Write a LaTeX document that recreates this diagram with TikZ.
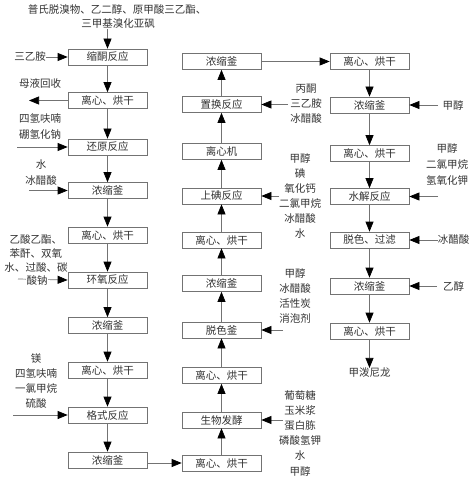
\documentclass[tikz,border=0pt]{standalone}
\usepackage{fontspec}
\setmainfont{Noto Sans CJK SC}
\usetikzlibrary{arrows.meta}
\begin{document}
\begin{tikzpicture}[x=1pt,y=-1pt,
  box/.style={draw=black!55, line width=0.7pt, minimum width=79pt, minimum height=16pt, inner sep=0pt, font=\fontsize{10.5}{12}\selectfont, fill=white, text=black!80},
  lbl/.style={inner sep=0pt, font=\fontsize{10.5}{15}\selectfont, align=center, text=black!80},
  arr/.style={draw=black!55, line width=0.7pt, -{Triangle[length=10pt,width=8pt,color=black,fill=black]}},
]
\useasboundingbox (0,0) rectangle (474,478);
% left column
\node[box] (L1) at (107.5,57) {缩酮反应};
\node[box] (L2) at (107.5,100.5) {离心、烘干};
\node[box] (L3) at (107.5,147) {还原反应};
\node[box] (L4) at (107.5,190.5) {浓缩釜};
\node[box] (L5) at (107.5,235) {离心、烘干};
\node[box] (L6) at (107.5,280) {环氧反应};
\node[box] (L7) at (107.5,325.5) {浓缩釜};
\node[box] (L8) at (107.5,370) {离心、烘干};
\node[box] (L9) at (107.5,415) {格式反应};
\node[box] (L10) at (107.5,460) {浓缩釜};
% middle column
\node[box] (M1) at (221.5,61.5) {浓缩釜};
\node[box] (M2) at (221.5,104.5) {置换反应};
\node[box] (M3) at (221.5,151.5) {离心机};
\node[box] (M4) at (221.5,196) {上碘反应};
\node[box] (M5) at (221.5,240) {离心、烘干};
\node[box] (M6) at (221.5,283.5) {浓缩釜};
\node[box] (M7) at (221.5,330) {脱色釜};
\node[box] (M8) at (221.5,375.5) {离心、烘干};
\node[box] (M9) at (221.5,420) {生物发酵};
\node[box] (M10) at (221.5,463) {离心、烘干};
% right column
\node[box] (R1) at (369.5,61.5) {离心、烘干};
\node[box] (R2) at (369.5,105) {浓缩釜};
\node[box] (R3) at (369.5,153.5) {离心、烘干};
\node[box] (R4) at (369.5,196.5) {水解反应};
\node[box] (R5) at (369.5,240) {脱色、过滤};
\node[box] (R6) at (369.5,286) {浓缩釜};
\node[box] (R7) at (369.5,331) {离心、烘干};
\node[lbl] (P) at (369.5,373) {甲泼尼龙};
% top input
\node[lbl] (top1) at (117,10) {普氏脱溴物、乙二醇、原甲酸三乙酯、};
\node[lbl] (top2) at (118,24) {三甲基溴化亚砜};
\draw[arr] (L1.north |- top2.south) -- (L1.north);
% left column flow
\foreach \a/\b in {L1/L2,L2/L3,L3/L4,L4/L5,L5/L6,L6/L7,L7/L8,L8/L9,L9/L10}
  \draw[arr] (\a) -- (\b);
% left inputs
\node[lbl] (i1) at (30,57) {三乙胺};
\draw[arr] (i1.east) -- (L1.west);
\node[lbl] (o1) at (40,84) {母液回收};
\coordinate (o1e) at (29,100.5);
\draw[arr] (L2.west) -- (o1e);
\node[lbl, font=\fontsize{10.5}{16}\selectfont] (i3) at (40,127) {四氢呋喃\\硼氢化钠};
\coordinate (i3s) at (17,147);
\draw[arr] (i3s) -- (L3.west);
\node[lbl, font=\fontsize{10.5}{16}\selectfont] (i4) at (41,173) {水\\冰醋酸};
\coordinate (i4s) at (29,190.5);
\draw[arr] (i4s) -- (L4.west);
\node[lbl, font=\fontsize{10.5}{13.7}\selectfont] (i6) at (36,253.5) {乙酸乙酯、\\苯酐、双氧\\水、过酸、碳};
\coordinate (i6s) at (18,279);
\draw[arr] (i6s) -- (L6.west);
\node[lbl, fill=white, inner sep=0.5pt] (i6b) at (37,281) {酸钠};
\node[lbl, font=\fontsize{10.5}{14.7}\selectfont] (i9) at (36,381) {镁\\四氢呋喃\\一氯甲烷\\硫酸};
\coordinate (i9s) at (13,415);
\draw[arr] (i9s) -- (L9.west);
% bottom link
\draw[arr] (L10.east |- M10) -- (M10.west);
% middle column flow (upward)
\foreach \a/\b in {M10/M9,M9/M8,M8/M7,M7/M6,M6/M5,M5/M4,M4/M3,M3/M2,M2/M1}
  \draw[arr] (\a) -- (\b);
\draw[arr] (M1) -- (R1);
% middle inputs
\node[lbl] (j2) at (306,104) {丙酮\\三乙胺\\冰醋酸};
\coordinate (j2s) at (288,104.5);
\draw[arr] (j2s) -- (M2.east);
\node[lbl] (j4) at (300,195.5) {甲醇\\碘\\氧化钙\\二氯甲烷\\冰醋酸\\水};
\coordinate (j4s) at (279,196);
\draw[arr] (j4s) -- (M4.east);
\node[lbl] (j7) at (295,295.5) {甲醇\\冰醋酸\\活性炭\\消泡剂};
\coordinate (j7s) at (283,330);
\draw[arr] (j7s) -- (M7.east);
\node[lbl, font=\fontsize{10.5}{15.2}\selectfont] (j9) at (300,433) {葡萄糖\\玉米浆\\蛋白胨\\磷酸氢钾\\水\\甲醇};
\coordinate (j9s) at (283,420);
\draw[arr] (j9s) -- (M9.east);
% right column flow
\foreach \a/\b in {R1/R2,R2/R3,R3/R4,R4/R5,R5/R6,R6/R7,R7/P}
  \draw[arr] (\a) -- (\b);
% right inputs
\node[lbl] (k2) at (453,105) {甲醇};
\coordinate (k2s) at (438,105);
\draw[arr] (k2s) -- (R2.east);
\node[lbl, font=\fontsize{10.5}{16}\selectfont] (k4) at (447,164) {甲醇\\二氯甲烷\\氢氧化钾};
\coordinate (k4s) at (438,196.5);
\draw[arr] (k4s) -- (R4.east);
\node[lbl] (k5) at (453.5,240) {冰醋酸};
\draw[arr] (k5.west) -- (R5.east);
\node[lbl] (k6) at (453.5,286) {乙醇};
\coordinate (k6s) at (437,286);
\draw[arr] (k6s) -- (R6.east);
\end{tikzpicture}
\end{document}
